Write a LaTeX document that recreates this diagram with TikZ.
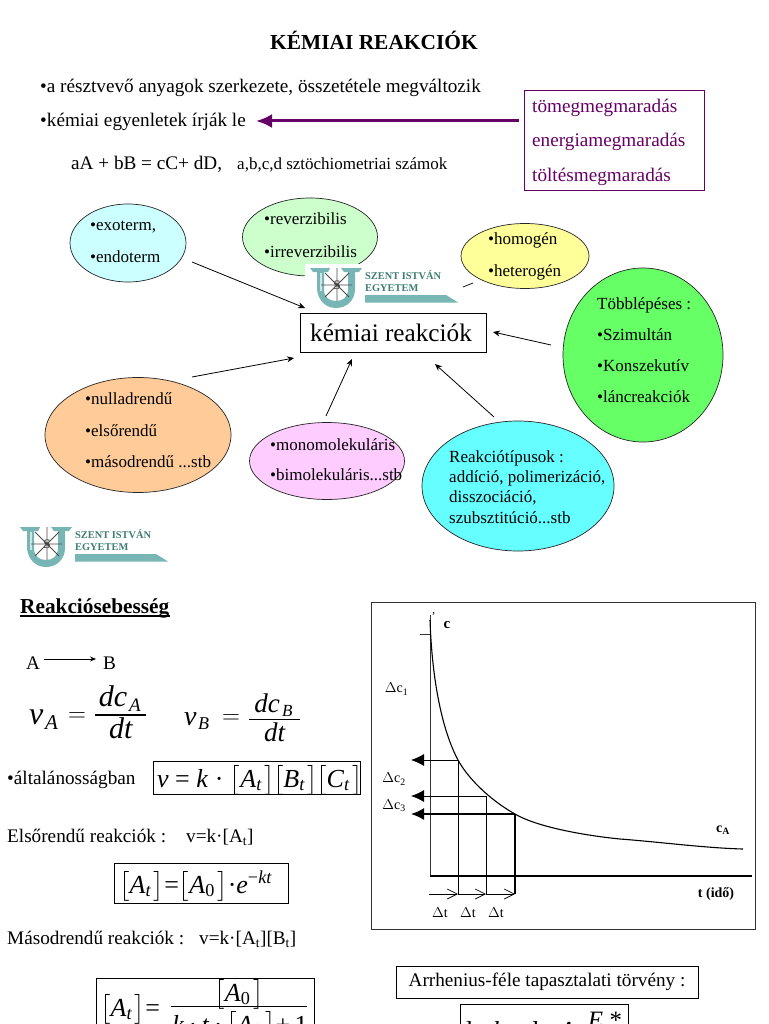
\documentclass[tikz,border=0pt]{standalone}
\usepackage{fontspec}
\usepackage{amsmath}
\setmainfont{Liberation Serif}
\usetikzlibrary{arrows.meta,shapes.geometric,calc}
\definecolor{logoc}{RGB}{120,182,182}
\definecolor{logot}{RGB}{62,125,115}
\definecolor{purp}{RGB}{102,0,102}
\definecolor{ocy}{RGB}{204,255,255}
\definecolor{ogr}{RGB}{204,255,204}
\definecolor{oye}{RGB}{255,255,153}
\definecolor{ogs}{RGB}{102,255,102}
\definecolor{oor}{RGB}{255,204,153}
\definecolor{opk}{RGB}{255,204,255}
\definecolor{ocs}{RGB}{102,255,255}
\newcommand{\fs}[1]{\fontsize{#1}{#1}\selectfont}
\newcommand{\iv}[1]{\textit{#1}}
\newcommand{\brk}[2]{$\bigl[$\textit{#1}\textsubscript{\textit{#2}}\kern2.5pt$\bigr]$}
\newcommand{\sisulogo}[3]{%
 \begin{scope}[shift={(#1,#2)},scale=#3]
  \fill[white] (-5,-3) rectangle (153,45);
  \fill[logoc] (7,4) -- (7,22) .. controls (8,34) and (16,41) .. (26,41) .. controls (37,41) and (45,33) .. (45,22) -- (45,4) -- (38,4) -- (38,22) .. controls (38,30) and (33,34) .. (26,34) .. controls (19,34) and (14,30) .. (14,22) -- (14,4) -- cycle;
  \fill[logoc] (0,1) -- (20,1) -- (18,5) -- (3,5) -- cycle;
  \fill[logoc] (31,1) -- (52,1) -- (49,5) -- (34,5) -- cycle;
  \fill[white!65!logoc] (9.5,6) rectangle (12,24);
  \draw[gray!60!black,line width=.8] (15,6) -- (39,30) (39,6) -- (15,30) (27,1) -- (27,34) (11,18) -- (42,18);
  \node[font=\bfseries\fs{10.4},text=logot,anchor=base west,inner sep=0] (logotext1) at (55,12) {SZENT ISTVÁN};
  \node[font=\bfseries\fs{10.4},text=logot,anchor=base west,inner sep=0] (logotext2) at (55,24) {EGYETEM};
  \fill[logoc] (55,28) -- (136,28) -- (148,35.5) -- (55,35.5) -- cycle;
  \node[font=\bfseries\fs{13},inner sep=0,text=black!75] (logoS) at (27,18) {S};
 \end{scope}}
\tikzset{
 txt/.style={inner sep=0,anchor=base west,font=\fs{19.2}},
 small/.style={inner sep=0,anchor=base west,font=\fs{17}},
 oval/.style={ellipse,draw=black!85,line width=.7,inner sep=0},
 arr/.style={line width=.8,-{Stealth[length=7,width=6]}},
 fbox/.style={draw=black,line width=.8,fill=none},
 gl/.style={line width=1,black!80},
}
\begin{document}
\begin{tikzpicture}[x=1pt,y=-1pt]
\useasboundingbox (0,0) rectangle (768,1024);
\clip (0,0) rectangle (768,1024);
\fill[white] (0,0) rectangle (768,1024);
\node[txt,font=\bfseries\fs{21.4}] (title) at (270,50) {KÉMIAI REAKCIÓK};
\node[txt] (l1) at (40,93) {•a résztvevő anyagok szerkezete, összetétele megváltozik};
\node[txt] (l2) at (40,127) {•kémiai egyenletek írják le};
\node[txt] (l3) at (71,170) {aA + bB = cC+ dD,};
\node[small] (l4) at (237,170) {a,b,c,d sztöchiometriai számok};
% conservation box
\node[draw=purp,line width=.8,minimum width=180,minimum height=100,inner sep=0] (cons) at (614,140) {};
\node[txt,text=purp] (c1) at (532,113) {tömegmegmaradás};
\node[txt,text=purp] (c2) at (532,147) {energiamegmaradás};
\node[txt,text=purp] (c3) at (532,182) {töltésmegmaradás};
\coordinate (consL) at (519,121);
\coordinate (l2R) at (256,121);
\draw[purp,line width=3,-{Latex[length=16,width=14]}] (consL) -- (l2R);
% ovals
\node[oval,fill=ocy,minimum width=116,minimum height=78] (o1) at (128,243) {};
\node[small] at (90,231) {•exoterm,};
\node[small] at (90,262) {•endoterm};
\node[oval,fill=ogr,minimum width=135,minimum height=78] (o2) at (310,237) {};
\node[small] at (264,225) {•reverzibilis};
\node[small] at (264,257) {•irreverzibilis};
\node[oval,fill=oye,minimum width=128,minimum height=65] (o3) at (525,256) {};
\node[small] at (488,244) {•homogén};
\node[small] at (488,276) {•heterogén};
\node[oval,fill=ogs,minimum width=160,minimum height=174] (o4) at (643,355) {};
\node[small] at (597,309) {Többlépéses :};
\node[small] at (597,340) {•Szimultán};
\node[small] at (597,371) {•Konszekutív};
\node[small] at (597,402) {•láncreakciók};
\node[oval,fill=oor,minimum width=186,minimum height=115] (o5) at (138,435) {};
\node[small] at (85,404) {•nulladrendű};
\node[small] at (85,436) {•elsőrendű};
\node[small] at (85,467) {•másodrendű ...stb};
\node[oval,fill=opk,minimum width=155,minimum height=77] (o6) at (327,461) {};
\node[small] at (270,450) {•monomolekuláris};
\node[small] at (270,480) {•bimolekuláris...stb};
\node[oval,fill=ocs,minimum width=192,minimum height=130] (o7) at (518,486) {};
\node[small] at (449,462) {Reakciótípusok :};
\node[small] at (449,482) {addíció, polimerizáció,};
\node[small] at (449,502) {disszociáció,};
\node[small] at (449,523) {szubsztitúció...stb};
\sisulogo{310}{267}{1}
\node[draw=black,line width=.8,inner sep=0,minimum width=186,minimum height=39,font=\fs{25.2}] (center) at (393.5,333) {kémiai reakciók\kern5pt};
\coordinate (a1) at (192,262); \coordinate (b1) at (305,308);
\coordinate (a4) at (551,345); \coordinate (b4) at (493,332);
\coordinate (a5) at (192,377); \coordinate (b5) at (294,358);
\coordinate (a6) at (326,416); \coordinate (b6) at (352,359);
\coordinate (a7) at (494,417); \coordinate (b7) at (435,364);
\draw[arr] (a1) -- (b1);
\draw[arr] (a4) -- (b4);
\draw[arr] (a5) -- (b5);
\draw[arr] (a6) -- (b6);
\draw[arr] (a7) -- (b7);
\draw[line width=.7] (463,287) -- (473,283);
\sisulogo{20}{526}{1}
% lower left
\node[txt,font=\bfseries\fs{21.3}] (rs) at (20,613) {Reakciósebesség};
\draw[line width=1.2] (20,616) -- (170,616);
\node[txt] (A) at (26,669) {A};
\node[txt] (B) at (103,669) {B};
\coordinate (arA) at (44,659);
\coordinate (arB) at (96,659);
\draw[line width=.8,-{Stealth[length=6,width=5]}] (arA) -- (arB);
\node[inner sep=0,anchor=base west,font=\fs{32}] (va) at (29,724) {\iv{v}};
\node[inner sep=0,anchor=base west,font=\fs{21}] (vasub) at (45,729) {\iv{A}};
\node[inner sep=0,font=\fs{27}] at (77,717) {$=$};
\node[inner sep=0,anchor=base,font=\fs{30}] (frA) at (113,706) {\iv{dc}};
\node[inner sep=0,anchor=base west,font=\fs{19}] (frAs) at (129,711) {\iv{A}};
\draw[line width=1.3] (95,715) -- (146,715);
\node[inner sep=0,anchor=base,font=\fs{30}] at (121,738) {\iv{dt}};
\node[inner sep=0,anchor=base west,font=\fs{28}] (vb) at (184,725) {\iv{v}};
\node[inner sep=0,anchor=base west,font=\fs{18}] (vbsub) at (198,729) {\iv{B}};
\node[inner sep=0,font=\fs{24}] at (231,719) {$=$};
\node[inner sep=0,anchor=base,font=\fs{27}] (frB) at (267,712) {\iv{dc}};
\node[inner sep=0,anchor=base west,font=\fs{17}] (frBs) at (282,716) {\iv{B}};
\draw[line width=.9] (249,719) -- (300,719);
\node[inner sep=0,anchor=base,font=\fs{27}] at (275,741) {\iv{dt}};
\node[txt] (alt) at (7,784) {•általánosságban};
\node[fbox,minimum width=207,minimum height=33,inner sep=0] (eq1) at (256.5,777.5) {};
\node[inner sep=0,anchor=base west,font=\fs{26}] at (157,787) {\iv{v} = \iv{k} · \brk{A}{t}\kern-2pt\brk{B}{t}\kern-2pt\brk{C}{t}};
\node[txt] (e1) at (7,842) {Elsőrendű reakciók :};
\node[txt] (e2) at (186,842) {v=k·[A\textsubscript{t}]};
\node[fbox,minimum width=174,minimum height=40,inner sep=0] (eq2) at (201,883.5) {};
\node[inner sep=0,anchor=base west,font=\fs{26}] at (119,893) {\brk{A}{t}=\brk{A}{\textup{0}}·\iv{e}\textsuperscript{−\iv{kt}}};
\node[txt] (m1) at (7,944) {Másodrendű reakciók :};
\node[txt] (m2) at (199,944) {v=k·[A\textsubscript{t}][B\textsubscript{t}]};
\node[fbox,minimum width=218,minimum height=60,inner sep=0] (eq3) at (205,1008) {};
\node[inner sep=0,anchor=base west,font=\fs{26}] at (100,1016) {\brk{A}{t}=};
\node[inner sep=0,anchor=base,font=\fs{26}] at (239,1001) {\brk{A}{\textup{0}}};
\draw[line width=.9] (171,1006) -- (307,1006);
\node[inner sep=0,anchor=base,font=\fs{26}] at (240,1033) {\iv{k}\,·\,\iv{t}\,·\,\brk{A}{\textup{0}}+\,1};
% graph
\node[draw=black!80,line width=1,minimum width=384,minimum height=327,inner sep=0] (gbox) at (563.5,765.5) {};
\coordinate (axT) at (430,615); \coordinate (axO) at (430,876); \coordinate (axR) at (752,876);
\draw[gl] (axT) -- (axO);
\draw[gl] (420,634) -- (430,634);
\draw[line width=1.5] (axO) -- (axR);
\node[inner sep=0,font=\bfseries\fs{15}] at (447,625) {c};
\node[inner sep=0,font=\fs{12}] at (433.5,617) {'};
\draw[line width=1.1] (430,620) .. controls (432,680) and (442,730) .. (458,760) .. controls (470,782) and (495,803) .. (515,814) .. controls (535,826) and (580,835) .. (620,839) .. controls (660,842) and (705,848) .. (743,849);
\node[inner sep=0,font=\fs{14}] at (396.5,689) {$\Delta$c\textsubscript{1}};
\node[inner sep=0,font=\fs{14}] at (394,779) {$\Delta$c\textsubscript{2}};
\node[inner sep=0,font=\fs{14}] at (394,806) {$\Delta$c\textsubscript{3}};
\coordinate (p1) at (458,760); \coordinate (p2) at (486,796); \coordinate (p3) at (515,814);
\coordinate (q0) at (429,894); \coordinate (q1) at (458,894); \coordinate (q2) at (486,894); \coordinate (q3) at (515,894);
\draw[line width=.8] (p1) -- (q1);
\draw[line width=.8] (p2) -- (q2);
\draw[line width=1.5] (p3) -- (q3);
\draw[line width=.8,-{Latex[length=13,width=12]}] (p1) -- (411,760);
\draw[line width=.8,-{Latex[length=13,width=12]}] (p2) -- (411,796);
\draw[line width=1.5,-{Latex[length=13,width=12]}] (p3) -- (411,814);
\draw[line width=.7,-{Straight Barb[length=10,width=10]}] (q0) -- (q1);
\draw[line width=.7,-{Straight Barb[length=10,width=10]}] (q1) -- (q2);
\draw[line width=.7,-{Straight Barb[length=10,width=10]}] (q2) -- (q3);
\node[inner sep=0,font=\fs{14}] at (440,913) {$\Delta$t};
\node[inner sep=0,font=\fs{14}] at (468,913) {$\Delta$t};
\node[inner sep=0,font=\fs{14}] at (496,913) {$\Delta$t};
\node[inner sep=0,font=\bfseries\fs{14}] at (716,894) {t (idő)};
\node[inner sep=0,font=\bfseries\fs{14}] at (723,830) {c\textsubscript{A}};
% Arrhenius
\node[draw=black,line width=.8,minimum width=302,minimum height=32,inner sep=0,font=\fs{19.2}] (arr) at (547,982) {Arrhenius-féle tapasztalati törvény :};
\node[fbox,minimum width=168,minimum height=60,inner sep=0] (eq4) at (544,1034) {};
\node[inner sep=0,anchor=base west,font=\fs{26}] at (466,1039) {ln \iv{k} = ln \iv{A} −};
\node[inner sep=0,anchor=base,font=\fs{25}] at (605,1028) {\iv{E} *};
\end{tikzpicture}
\end{document}
